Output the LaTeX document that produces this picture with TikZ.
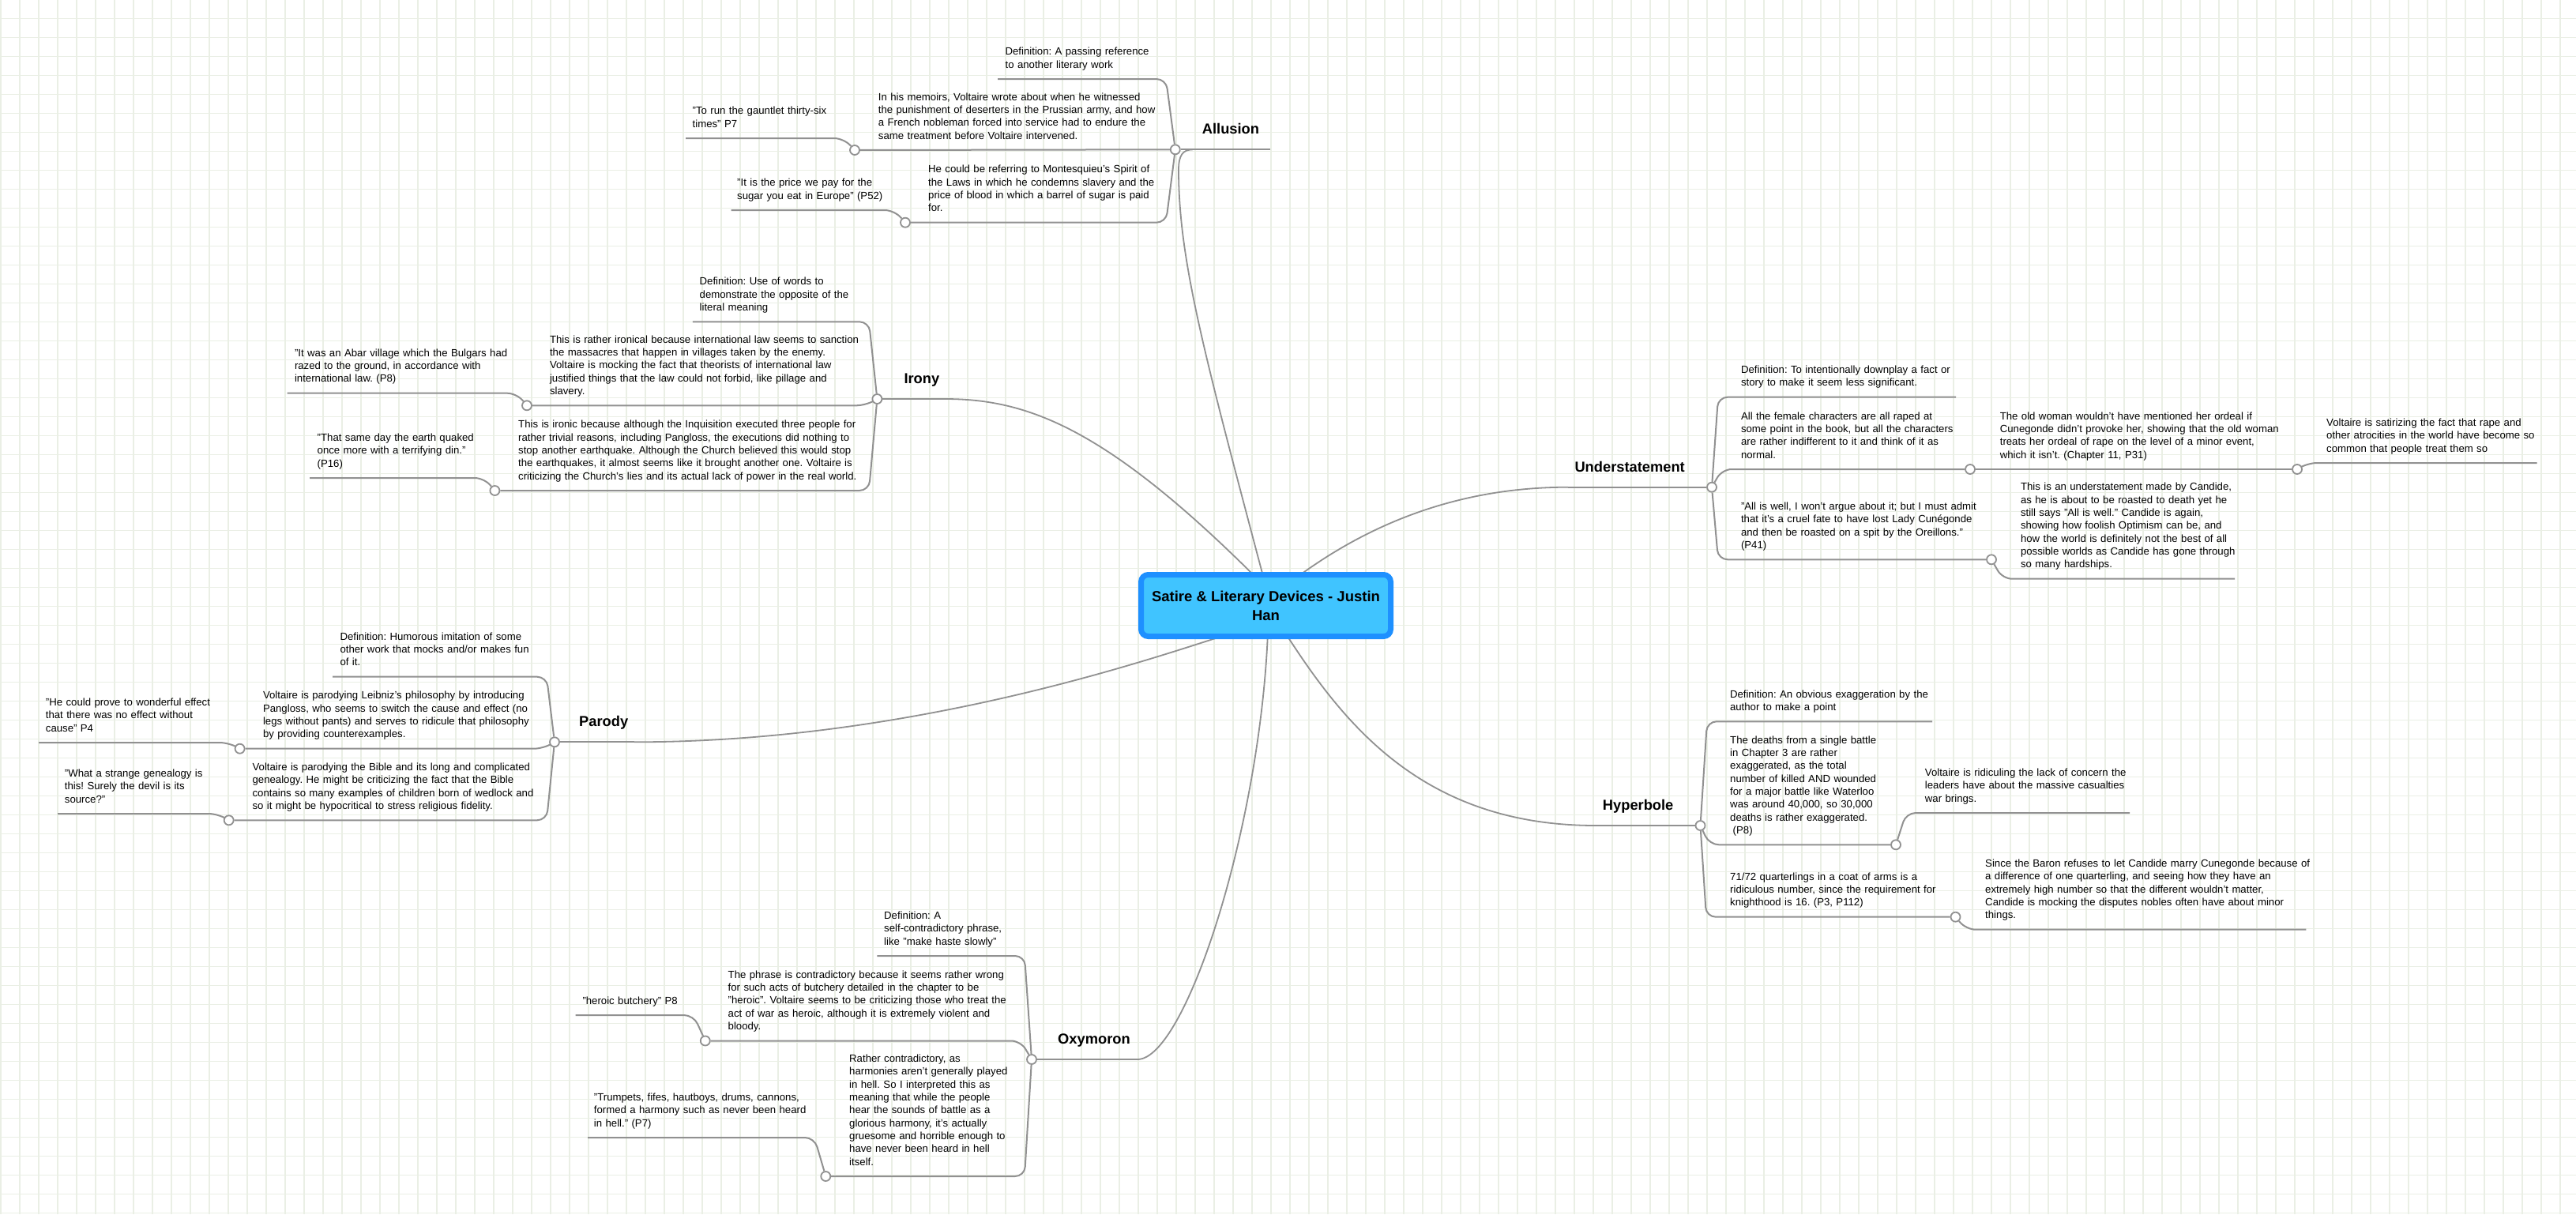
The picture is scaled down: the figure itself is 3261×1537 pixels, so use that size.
\documentclass[tikz,border=0pt]{standalone}
\usepackage{fontspec}
\setmainfont{Liberation Sans}
\frenchspacing
\definecolor{linegray}{RGB}{145,145,145}
\definecolor{gridc}{RGB}{234,239,229}
\definecolor{cfill}{RGB}{64,196,255}
\definecolor{cborder}{RGB}{30,144,255}
\pgfdeclarelayer{gridlayer}
\pgfdeclarelayer{edgelayer}
\pgfsetlayers{gridlayer,edgelayer,main}
\newcommand\blk[5]{\node[txt] (#1) at ({#2},{#3-14-(#4-1)*16.3}) {#5};}
\begin{document}
\begin{tikzpicture}[x=1pt,y=-1pt,
  link/.style={draw=linegray,line width=2pt,rounded corners=12pt},
  mainlink/.style={draw=linegray,line width=1.8pt},
  dot/.style={circle,draw=linegray,fill=white,line width=1.8pt,minimum size=12pt,inner sep=0pt},
  txt/.style={font=\fontsize{13.2}{16.3}\selectfont\frenchspacing,text width=640pt,align=left,inner sep=0pt,anchor=base west},
  lab/.style={font=\fontsize{18.3}{22}\selectfont\bfseries,inner sep=0pt},
  gridline/.style={draw=gridc,line width=1.1pt}]
\useasboundingbox (0,0) rectangle (3261,1537);
\begin{pgfonlayer}{gridlayer}
\fill[white] (0,0) rectangle (3261,1537);
\foreach \i in {0,...,135} \draw[gridline] ({1+24*\i},0) -- ({1+24*\i},1537);
\foreach \j in {0,...,63} \draw[gridline] (0,{23.3+24*\j}) -- (3261,{23.3+24*\j});
\end{pgfonlayer}

% centre
\node[draw=cborder,fill=cfill,line width=7pt,rounded corners=9pt,minimum width=316pt,minimum height=78pt,inner sep=0pt,align=center,font=\fontsize{18.5}{24}\selectfont\bfseries] (ctr) at (1602.5,766.5) {Satire \& Literary Devices - Justin\\Han};

% branch circles
\node[dot] (A) at (1487.8,189.3) {};
\node[dot] (I) at (1110.4,505) {};
\node[dot] (P) at (702,939.3) {};
\node[dot] (O) at (1306,1341) {};
\node[dot] (U) at (2167,616.7) {};
\node[dot] (H) at (2152.5,1045) {};
% sub circles
\node[dot] (a2c) at (1082,190) {};
\node[dot] (a3c) at (1146,281.7) {};
\node[dot] (i2c) at (667,513.3) {};
\node[dot] (i3c) at (626.4,621) {};
\node[dot] (p2c) at (303.6,947.7) {};
\node[dot] (p3c) at (289.7,1038.3) {};
\node[dot] (o2c) at (892.8,1317.5) {};
\node[dot] (o3c) at (1045.3,1489) {};
\node[dot] (u2c) at (2494,594) {};
\node[dot] (u2gc) at (2908,594) {};
\node[dot] (u3c) at (2521,708.3) {};
\node[dot] (h2c) at (2400,1069.3) {};
\node[dot] (h3c) at (2475.5,1160.7) {};

% free ends
\coordinate (sA) at (1601,737);
\coordinate (sI) at (1592,733);
\coordinate (sP) at (1545,806);
\coordinate (sO) at (1605,800);
\coordinate (sU) at (1640,732);
\coordinate (sH) at (1625,798);
\coordinate (jA) at (1510,189.3);
\coordinate (eA) at (1608,189.3);
\coordinate (jI) at (1196,505);
\coordinate (jP) at (803,939.3);
\coordinate (jO) at (1440,1341);
\coordinate (jU) at (1985,616.7);
\coordinate (jH) at (2020,1045);
\coordinate (a1e) at (1263,100);
\coordinate (a2ge) at (868,175);
\coordinate (a3ge) at (925.5,266);
\coordinate (i1e) at (876.8,407.3);
\coordinate (i2ge) at (363.5,497.7);
\coordinate (i3ge) at (392,605);
\coordinate (p1e) at (421,856.7);
\coordinate (p2ge) at (49,940);
\coordinate (p3ge) at (73,1030);
\coordinate (o1e) at (1110.4,1210);
\coordinate (o2ge) at (728.7,1285);
\coordinate (o3ge) at (744,1440);
\coordinate (u1e) at (2476,502.7);
\coordinate (u2gge) at (3211.7,586);
\coordinate (u3ge) at (2829,732.7);
\coordinate (h1e) at (2446,913.3);
\coordinate (h2ge) at (2696,1029);
\coordinate (h3ge) at (2919.4,1176.7);

\begin{pgfonlayer}{edgelayer}
% main connectors
\draw[mainlink] (sA) .. controls (1525,450) and (1492,330) .. (1492,215) .. controls (1492,197) and (1497,189.3) .. (jA);
\draw[mainlink] (sI) .. controls (1400,541) and (1300,505) .. (jI);
\draw[mainlink] (sP) .. controls (1450,836) and (1150,939.3) .. (jP);
\draw[mainlink] (sO) .. controls (1595,1050) and (1500,1341) .. (jO);
\draw[mainlink] (sU) .. controls (1745,654) and (1860,616.7) .. (jU);
\draw[mainlink] (sH) .. controls (1700,915) and (1800,1045) .. (jH);
% branch underlines
\draw[link] (A) -- (eA);
\draw[link] (I) -- (jI);
\draw[link] (P) -- (jP);
\draw[link] (O) -- (jO);
\draw[link] (U) -- (jU);
\draw[link] (H) -- (jH);
% Allusion
\draw[link] (A) -- (1476,100) -- (a1e);
\draw[link] (A) -- (a2c);
\draw[link] (A) -- (1476,281.7) -- (a3c);
\draw[link] (a2c) -- (1068,175) -- (a2ge);
\draw[link] (a3c) -- (1132,266) -- (a3ge);
% Irony
\draw[link] (I) -- (1100,407.3) -- (i1e);
\draw[link] (I) -- (1096,513.3) -- (i2c);
\draw[link] (I) -- (1100,621) -- (i3c);
\draw[link] (i2c) -- (654,497.7) -- (i2ge);
\draw[link] (i3c) -- (613,605) -- (i3ge);
% Parody
\draw[link] (P) -- (692,856.7) -- (p1e);
\draw[link] (P) -- (688,947.7) -- (p2c);
\draw[link] (P) -- (692,1038.3) -- (p3c);
\draw[link] (p2c) -- (290,940) -- (p2ge);
\draw[link] (p3c) -- (276,1030) -- (p3ge);
% Oxymoron
\draw[link] (O) -- (1297,1210) -- (o1e);
\draw[link] (O) -- (1292,1317.5) -- (o2c);
\draw[link] (O) -- (1297,1489) -- (o3c);
\draw[link] (o2c) -- (878,1285) -- (o2ge);
\draw[link] (o3c) -- (1031,1440) -- (o3ge);
% Understatement
\draw[link] (U) -- (2175,502.7) -- (u1e);
\draw[link] (U) -- (2180,594) -- (u2c);
\draw[link] (U) -- (2175,708.3) -- (u3c);
\draw[link] (u2c) -- (u2gc);
\draw[link] (u2gc) -- (2921,586) -- (u2gge);
\draw[link] (u3c) -- (2535,732.7) -- (u3ge);
% Hyperbole
\draw[link] (H) -- (2161,913.3) -- (h1e);
\draw[link] (H) -- (2164,1069.3) -- (h2c);
\draw[link] (H) -- (2160,1160.7) -- (h3c);
\draw[link] (h2c) -- (2413,1029) -- (h2ge);
\draw[link] (h3c) -- (2489,1176.7) -- (h3ge);
\end{pgfonlayer}

% branch labels
\node[lab,anchor=base west] (lA) at (1521.7,169.8) {Allusion};
\node[lab,anchor=base west] (lI) at (1144.3,485.5) {Irony};
\node[lab,anchor=base west] (lP) at (733,919.8) {Parody};
\node[lab,anchor=base west] (lO) at (1339,1321.5) {Oxymoron};
\node[lab,anchor=base east] (lU) at (2133,597.2) {Understatement};
\node[lab,anchor=base east] (lH) at (2118.6,1025.5) {Hyperbole};

% Allusion texts
\blk{a1t}{1272.4}{100}{2}{Definition: A passing reference\\to another literary work}
\blk{a2t}{1111.7}{190}{4}{In his memoirs, Voltaire wrote about when he witnessed\\the punishment of deserters in the Prussian army, and how\\a French nobleman forced into service had to endure the\\same treatment before Voltaire intervened.}
\blk{a2g}{876.5}{175}{2}{"To run the gauntlet thirty-six\\times" P7}
\blk{a3t}{1175}{281.7}{4}{He could be referring to Montesquieu's Spirit of\\the Laws in which he condemns slavery and the\\price of blood in which a barrel of sugar is paid\\for.}
\blk{a3g}{933}{266}{2}{"It is the price we pay for the\\sugar you eat in Europe" (P52)}

% Irony texts
\blk{i1t}{885.5}{407.3}{3}{Definition: Use of words to\\demonstrate the opposite of the\\literal meaning}
\blk{i2t}{695.8}{513.3}{5}{This is rather ironical because international law seems to sanction\\the massacres that happen in villages taken by the enemy.\\Voltaire is mocking the fact that theorists of international law\\justified things that the law could not forbid, like pillage and\\slavery.}
\blk{i2g}{372.8}{497.7}{3}{"It was an Abar village which the Bulgars had\\razed to the ground, in accordance with\\international law. (P8)}
\blk{i3t}{656}{621}{5}{This is ironic because although the Inquisition executed three people for\\rather trivial reasons, including Pangloss, the executions did nothing to\\stop another earthquake. Although the Church believed this would stop\\the earthquakes, it almost seems like it brought another one. Voltaire is\\criticizing the Church's lies and its actual lack of power in the real world.}
\blk{i3g}{401.5}{605}{3}{"That same day the earth quaked\\once more with a terrifying din."\\(P16)}

% Parody texts
\blk{p1t}{430.3}{856.7}{3}{Definition: Humorous imitation of some\\other work that mocks and/or makes fun\\of it.}
\blk{p2t}{332.8}{947.7}{4}{Voltaire is parodying Leibniz's philosophy by introducing\\Pangloss, who seems to switch the cause and effect (no\\legs without pants) and serves to ridicule that philosophy\\by providing counterexamples.}
\blk{p2g}{57.7}{940}{3}{"He could prove to wonderful effect\\that there was no effect without\\cause" P4}
\blk{p3t}{319.4}{1038.3}{4}{Voltaire is parodying the Bible and its long and complicated\\genealogy. He might be criticizing the fact that the Bible\\contains so many examples of children born of wedlock and\\so it might be hypocritical to stress religious fidelity.}
\blk{p3g}{81.7}{1030}{3}{"What a strange genealogy is\\this! Surely the devil is its\\source?"}

% Oxymoron texts
\blk{o1t}{1119}{1210}{3}{Definition: A\\self-contradictory phrase,\\like "make haste slowly"}
\blk{o2t}{921.5}{1317.5}{5}{The phrase is contradictory because it seems rather wrong\\for such acts of butchery detailed in the chapter to be\\"heroic". Voltaire seems to be criticizing those who treat the\\act of war as heroic, although it is extremely violent and\\bloody.}
\blk{o2g}{737.3}{1285}{1}{"heroic butchery" P8}
\blk{o3t}{1075}{1489}{9}{Rather contradictory, as\\harmonies aren't generally played\\in hell. So I interpreted this as\\meaning that while the people\\hear the sounds of battle as a\\glorious harmony, it's actually\\gruesome and horrible enough to\\have never been heard in hell\\itself.}
\blk{o3g}{751.7}{1440}{3}{"Trumpets, fifes, hautboys, drums, cannons,\\formed a harmony such as never been heard\\in hell." (P7)}

% Understatement texts
\blk{u1t}{2203.8}{502.7}{2}{Definition: To intentionally downplay a fact or\\story to make it seem less significant.}
\blk{u2t}{2203.8}{594}{4}{All the female characters are all raped at\\some point in the book, but all the characters\\are rather indifferent to it and think of it as\\normal.}
\blk{u2g}{2531.6}{594}{4}{The old woman wouldn't have mentioned her ordeal if\\Cunegonde didn't provoke her, showing that the old woman\\treats her ordeal of rape on the level of a minor event,\\which it isn't. (Chapter 11, P31)}
\blk{u2gg}{2945}{586}{3}{Voltaire is satirizing the fact that rape and\\other atrocities in the world have become so\\common that people treat them so}
\blk{u3t}{2203.8}{708.3}{4}{"All is well, I won't argue about it; but I must admit\\that it's a cruel fate to have lost Lady Cunégonde\\and then be roasted on a spit by the Oreillons."\\(P41)}
\blk{u3g}{2557.8}{732.7}{7}{This is an understatement made by Candide,\\as he is about to be roasted to death yet he\\still says "All is well." Candide is again,\\showing how foolish Optimism can be, and\\how the world is definitely not the best of all\\possible worlds as Candide has gone through\\so many hardships.}

% Hyperbole texts
\blk{h1t}{2189.8}{913.3}{2}{Definition: An obvious exaggeration by the\\author to make a point}
\blk{h2t}{2190}{1069.3}{8}{The deaths from a single battle\\in Chapter 3 are rather\\exaggerated, as the total\\number of killed AND wounded\\for a major battle like Waterloo\\was around 40,000, so 30,000\\deaths is rather exaggerated.\\\hspace*{3.5pt}(P8)}
\blk{h2g}{2436.7}{1029}{3}{Voltaire is ridiculing the lack of concern the\\leaders have about the massive casualties\\war brings.}
\blk{h3t}{2190}{1160.7}{3}{71/72 quarterlings in a coat of arms is a\\ridiculous number, since the requirement for\\knighthood is 16. (P3, P112)}
\blk{h3g}{2513}{1176.7}{5}{Since the Baron refuses to let Candide marry Cunegonde because of\\a difference of one quarterling, and seeing how they have an\\extremely high number so that the different wouldn't matter,\\Candide is mocking the disputes nobles often have about minor\\things.}
\end{tikzpicture}
\end{document}
